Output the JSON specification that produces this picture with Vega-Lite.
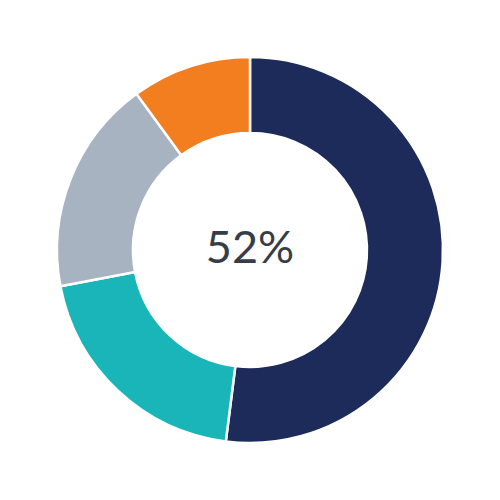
{
  "$schema": "https://vega.github.io/schema/vega-lite/v6.json",
  "width": 500,
  "height": 500,
  "padding": 0,
  "autosize": {"type": "fit", "contains": "padding"},
  "background": "white",
  "view": {"stroke": null},
  "layer": [
    {
      "data": {
        "values": [
          {"segment": "A", "share": 52, "rank": 1},
          {"segment": "B", "share": 20, "rank": 2},
          {"segment": "C", "share": 18, "rank": 3},
          {"segment": "D", "share": 10, "rank": 4}
        ]
      },
      "mark": {"type": "arc", "outerRadius": 193, "innerRadius": 117, "stroke": "white", "strokeWidth": 2.5},
      "encoding": {
        "theta": {"field": "share", "type": "quantitative", "stack": true},
        "order": {"field": "rank", "type": "quantitative"},
        "color": {
          "field": "segment",
          "type": "nominal",
          "scale": {"domain": ["A", "B", "C", "D"], "range": ["#1c2b5a", "#1ab5b8", "#a8b3c2", "#f37e20"]},
          "legend": null
        }
      }
    },
    {
      "data": {"values": [{"label": "52%"}]},
      "mark": {"type": "text", "font": "Lato", "fontWeight": 400, "fontSize": 45, "color": "#363d47", "baseline": "middle", "align": "center", "dy": -1},
      "encoding": {
        "text": {"field": "label", "type": "nominal"}
      }
    }
  ]
}
